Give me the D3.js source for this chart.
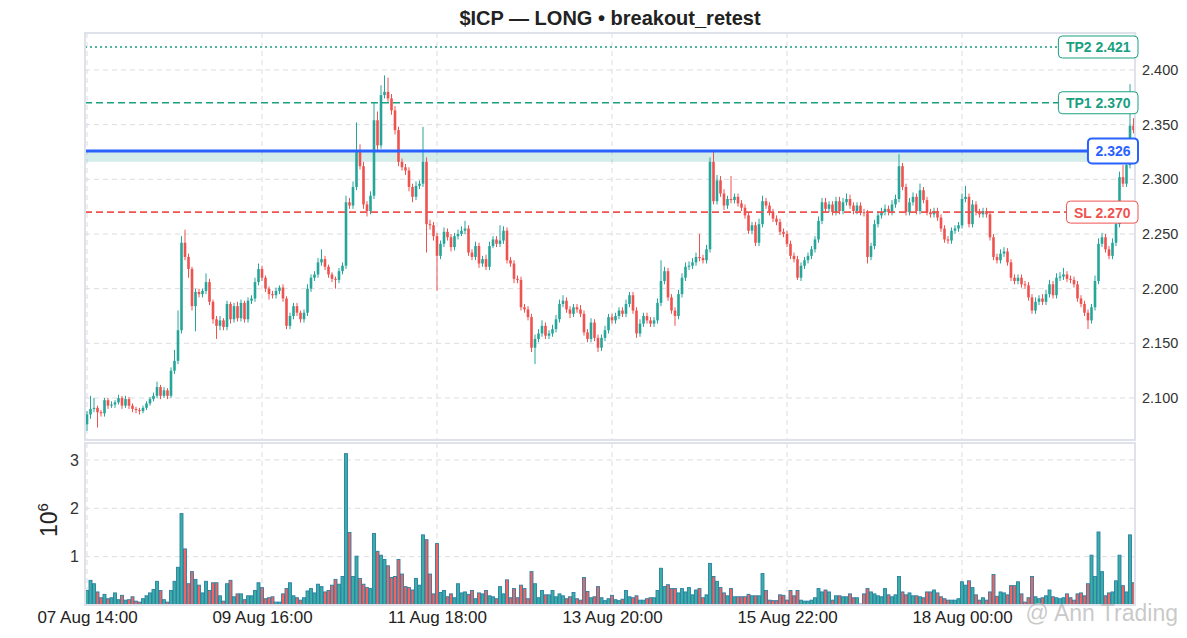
<!DOCTYPE html>
<html>
<head>
<meta charset="utf-8">
<title>$ICP — LONG • breakout_retest</title>
<script src="https://cdn.jsdelivr.net/npm/d3@7"></script>
<style>
  body { margin: 0; background: #fff; }
  svg { display: block; font-family: "Liberation Sans", Arial, sans-serif; }
</style>
</head>
<body>
<svg id="chart" width="1187" height="638"></svg>
<script>
// hourly candles, first one at 07 Aug 14:00 (UTC)
const startTime = "2025-08-07T14:00:00Z";
const firstOpen = 2.076;

// close of each hour, open = previous close
const closes = [
  2.085, 2.090, 2.091, 2.087, 2.086, 2.098, 2.093, 2.094, 2.096, 2.100, // 0
  2.093, 2.099, 2.093, 2.090, 2.089, 2.088, 2.091, 2.095, 2.099, 2.102, // 10
  2.110, 2.102, 2.107, 2.102, 2.125, 2.134, 2.162, 2.242, 2.229, 2.218, // 20
  2.184, 2.197, 2.195, 2.198, 2.206, 2.188, 2.172, 2.166, 2.171, 2.165, // 30
  2.186, 2.172, 2.184, 2.173, 2.187, 2.172, 2.189, 2.191, 2.206, 2.218, // 40
  2.210, 2.200, 2.195, 2.194, 2.198, 2.201, 2.191, 2.166, 2.175, 2.184, // 50
  2.178, 2.172, 2.178, 2.200, 2.210, 2.213, 2.224, 2.227, 2.220, 2.213, // 60
  2.209, 2.208, 2.216, 2.221, 2.279, 2.276, 2.293, 2.326, 2.312, 2.277, // 70
  2.271, 2.285, 2.354, 2.331, 2.377, 2.380, 2.374, 2.363, 2.345, 2.316, // 80
  2.311, 2.308, 2.293, 2.284, 2.294, 2.296, 2.316, 2.259, 2.258, 2.248, // 90
  2.230, 2.241, 2.252, 2.247, 2.238, 2.248, 2.250, 2.253, 2.255, 2.233, // 100
  2.229, 2.239, 2.223, 2.227, 2.220, 2.239, 2.245, 2.241, 2.244, 2.253, // 110
  2.226, 2.223, 2.209, 2.208, 2.183, 2.181, 2.174, 2.146, 2.154, 2.159, // 120
  2.166, 2.157, 2.159, 2.163, 2.172, 2.186, 2.189, 2.181, 2.177, 2.183, // 130
  2.181, 2.177, 2.160, 2.154, 2.169, 2.155, 2.146, 2.155, 2.162, 2.174, // 140
  2.171, 2.175, 2.180, 2.177, 2.186, 2.194, 2.180, 2.159, 2.168, 2.175, // 150
  2.171, 2.168, 2.171, 2.187, 2.207, 2.216, 2.192, 2.180, 2.175, 2.195, // 160
  2.210, 2.220, 2.221, 2.224, 2.229, 2.228, 2.226, 2.236, 2.316, 2.280, // 170
  2.299, 2.287, 2.276, 2.282, 2.281, 2.284, 2.278, 2.274, 2.267, 2.253, // 180
  2.258, 2.242, 2.259, 2.280, 2.276, 2.270, 2.264, 2.261, 2.252, 2.250, // 190
  2.241, 2.230, 2.227, 2.210, 2.221, 2.226, 2.230, 2.236, 2.245, 2.262, // 200
  2.279, 2.273, 2.277, 2.270, 2.280, 2.271, 2.279, 2.282, 2.276, 2.271, // 210
  2.276, 2.270, 2.269, 2.229, 2.239, 2.259, 2.267, 2.270, 2.273, 2.270, // 220
  2.277, 2.282, 2.312, 2.293, 2.270, 2.279, 2.284, 2.271, 2.290, 2.281, // 230
  2.270, 2.268, 2.271, 2.265, 2.255, 2.245, 2.244, 2.253, 2.255, 2.258, // 240
  2.282, 2.284, 2.259, 2.277, 2.270, 2.268, 2.271, 2.268, 2.247, 2.229, // 250
  2.226, 2.232, 2.234, 2.224, 2.210, 2.207, 2.210, 2.204, 2.203, 2.192, // 260
  2.180, 2.188, 2.191, 2.188, 2.195, 2.204, 2.194, 2.210, 2.211, 2.213, // 270
  2.209, 2.208, 2.204, 2.191, 2.186, 2.178, 2.171, 2.183, 2.207, 2.241, // 280
  2.247, 2.236, 2.230, 2.242, 2.259, 2.302, 2.296, 2.313, 2.349, 2.345  // 290
];

// wick lengths above / below the body, in thousandths
const upperWicks = [
  3, 12, 9, 2, 2, 2, 2, 3, 2, 3,   2, 3, 2, 2, 2, 2, 2, 2, 2, 3,
  5, 2, 3, 2, 3, 10, 18, 6, 12, 3,  2, 3, 3, 2, 8, 3, 2, 3, 4, 2,
  3, 2, 3, 4, 3, 2, 3, 3, 4, 5,   3, 2, 2, 3, 3, 2, 3, 2, 3, 3,
  3, 2, 3, 4, 3, 3, 4, 9, 3, 2,   2, 2, 3, 3, 6, 4, 5, 26, 6, 4,
  3, 4, 16, 8, 9, 15, 13, 4, 4, 3,  3, 3, 3, 3, 4, 3, 32, 4, 4, 3,
  3, 3, 4, 3, 3, 3, 4, 4, 7, 3,   3, 4, 3, 3, 4, 4, 3, 3, 14, 4,
  3, 3, 3, 3, 3, 3, 3, 3, 4, 4,   5, 3, 3, 4, 4, 4, 5, 3, 3, 3,
  3, 4, 3, 3, 4, 3, 3, 3, 4, 3,   3, 3, 3, 3, 4, 3, 3, 3, 4, 3,
  3, 3, 3, 4, 19, 4, 3, 3, 3, 4,  4, 4, 4, 4, 4, 21, 3, 4, 4, 9,
  5, 4, 4, 3, 21, 3, 3, 3, 3, 3,  3, 3, 5, 5, 3, 3, 3, 3, 3, 3,
  3, 3, 3, 3, 3, 3, 3, 3, 3, 4,   4, 4, 3, 3, 4, 4, 4, 5, 4, 3,
  3, 3, 3, 3, 3, 4, 4, 4, 4, 3,   4, 4, 11, 3, 3, 4, 4, 3, 6, 3,
  3, 3, 3, 3, 3, 3, 3, 3, 3, 3,   5, 10, 3, 4, 3, 3, 3, 3, 3, 3,
  3, 4, 4, 3, 3, 3, 3, 3, 3, 3,   3, 4, 3, 4, 4, 4, 3, 4, 4, 6,
  3, 3, 3, 3, 3, 3, 3, 3, 5, 5,   4, 3, 3, 4, 4, 5, 11, 5, 38, 7
];
const lowerWicks = [
  6, 4, 3, 14, 3, 3, 3, 2, 3, 2,  3, 2, 3, 3, 3, 3, 2, 2, 2, 2,
  2, 3, 2, 3, 2, 3, 3, 3, 3, 8,   4, 23, 3, 3, 3, 3, 4, 12, 4, 3,
  3, 4, 3, 3, 3, 3, 3, 3, 3, 3,   3, 3, 5, 3, 3, 3, 3, 3, 3, 3,
  3, 3, 3, 3, 3, 3, 3, 3, 3, 3,   3, 8, 3, 3, 3, 3, 3, 3, 3, 4,
  5, 3, 3, 4, 3, 3, 3, 4, 4, 4,   3, 4, 4, 5, 3, 3, 3, 26, 4, 4,
  32, 3, 3, 3, 4, 3, 3, 2, 3, 3,  3, 3, 4, 3, 3, 3, 2, 3, 3, 3,
  3, 3, 4, 3, 3, 3, 3, 4, 15, 3,  3, 3, 3, 3, 3, 3, 3, 3, 4, 3,
  3, 3, 3, 3, 3, 3, 4, 3, 3, 3,   3, 3, 3, 3, 3, 3, 3, 4, 3, 3,
  3, 3, 3, 3, 3, 3, 3, 3, 9, 3,   3, 3, 3, 3, 3, 3, 3, 3, 3, 3,
  3, 3, 4, 3, 3, 3, 3, 3, 3, 3,   3, 3, 3, 3, 3, 3, 3, 3, 3, 3,
  3, 3, 3, 2, 3, 3, 3, 3, 3, 3,   3, 3, 3, 3, 3, 3, 3, 3, 3, 3,
  3, 3, 3, 6, 3, 3, 3, 3, 3, 3,   3, 3, 3, 3, 3, 3, 3, 3, 3, 3,
  3, 3, 3, 3, 3, 3, 3, 3, 3, 3,   3, 3, 3, 3, 3, 3, 3, 3, 3, 3,
  3, 3, 3, 3, 3, 3, 3, 3, 3, 3,   3, 3, 3, 3, 3, 3, 3, 3, 3, 3,
  3, 3, 3, 3, 3, 3, 8, 3, 3, 3,   3, 3, 3, 3, 3, 3, 3, 3, 3, 3
];

// volume per hour, millions
const volumes = [
  0.30, 0.51, 0.44, 0.27, 0.15, 0.22, 0.13, 0.15, 0.25, 0.11,
  0.20, 0.10, 0.11, 0.17, 0.08, 0.06, 0.13, 0.19, 0.25, 0.32,
  0.49, 0.30, 0.11, 0.06, 0.30, 0.49, 0.78, 1.89, 1.16, 0.44,
  0.69, 0.53, 0.41, 0.25, 0.49, 0.30, 0.46, 0.46, 0.19, 0.08,
  0.44, 0.51, 0.17, 0.23, 0.23, 0.11, 0.19, 0.19, 0.30, 0.46,
  0.36, 0.13, 0.15, 0.17, 0.06, 0.06, 0.23, 0.34, 0.46, 0.19,
  0.15, 0.10, 0.15, 0.29, 0.34, 0.25, 0.43, 0.38, 0.27, 0.30,
  0.41, 0.53, 0.43, 0.59, 3.13, 1.50, 0.59, 1.01, 0.55, 0.43,
  0.36, 0.34, 1.48, 1.11, 1.03, 0.94, 0.81, 0.57, 0.59, 0.94,
  0.64, 0.38, 0.36, 0.31, 0.55, 0.41, 1.45, 1.35, 0.64, 0.23,
  1.27, 0.26, 0.30, 0.17, 0.23, 0.15, 0.44, 0.25, 0.27, 0.22,
  0.30, 0.13, 0.25, 0.23, 0.30, 0.19, 0.17, 0.13, 0.38, 0.23,
  0.52, 0.15, 0.34, 0.15, 0.41, 0.34, 0.13, 0.69, 0.44, 0.15,
  0.30, 0.21, 0.21, 0.30, 0.17, 0.23, 0.19, 0.13, 0.17, 0.26,
  0.13, 0.10, 0.57, 0.28, 0.15, 0.17, 0.38, 0.15, 0.09, 0.13,
  0.20, 0.11, 0.09, 0.12, 0.30, 0.17, 0.15, 0.19, 0.10, 0.10,
  0.13, 0.15, 0.15, 0.30, 0.76, 0.38, 0.42, 0.34, 0.34, 0.25,
  0.34, 0.27, 0.36, 0.21, 0.31, 0.34, 0.15, 0.21, 0.86, 0.59,
  0.49, 0.36, 0.25, 0.19, 0.34, 0.17, 0.17, 0.17, 0.17, 0.22,
  0.19, 0.19, 0.19, 0.65, 0.30, 0.10, 0.09, 0.09, 0.21, 0.20,
  0.10, 0.30, 0.19, 0.30, 0.10, 0.08, 0.08, 0.10, 0.15, 0.34,
  0.27, 0.31, 0.27, 0.10, 0.19, 0.19, 0.17, 0.17, 0.23, 0.15,
  0.15, 0.02, 0.23, 0.34, 0.27, 0.23, 0.19, 0.17, 0.34, 0.21,
  0.17, 0.21, 0.59, 0.27, 0.21, 0.25, 0.19, 0.19, 0.17, 0.15,
  0.27, 0.27, 0.31, 0.25, 0.17, 0.13, 0.10, 0.10, 0.10, 0.13,
  0.48, 0.41, 0.50, 0.36, 0.21, 0.10, 0.15, 0.10, 0.27, 0.63,
  0.18, 0.27, 0.25, 0.21, 0.40, 0.40, 0.48, 0.23, 0.06, 0.15,
  0.59, 0.17, 0.13, 0.15, 0.19, 0.31, 0.17, 0.15, 0.13, 0.15,
  0.23, 0.15, 0.10, 0.23, 0.25, 0.19, 0.44, 1.03, 0.59, 1.51,
  0.69, 0.19, 0.25, 0.27, 0.50, 1.03, 0.40, 0.27, 1.45, 0.46
];

const timeTicks = ["2025-08-07T14:00:00Z", "2025-08-09T16:00:00Z", "2025-08-11T18:00:00Z",
                   "2025-08-13T20:00:00Z", "2025-08-15T22:00:00Z", "2025-08-18T00:00:00Z"];
const priceTicks = [2.100, 2.150, 2.200, 2.250, 2.300, 2.350, 2.400];
const volumeTicks = [1, 2, 3];

// trade levels
const levelNames = ["TP2", "TP1", "", "SL"];
const levelValues = [2.421, 2.370, 2.326, 2.270];
const entryZone = [2.316, 2.326];

const title = "$ICP — LONG • breakout_retest";

// ---------- layout ----------
const left = 85, right = 1135;
const priceTop = 33, priceBottom = 440;
const volTop = 443, volBottom = 605;
const HOUR = 3600 * 1000;

const UP = "#26a69a", DOWN = "#ef5350";
const TEAL = "#18a07f", BLUE = "#2962ff";
const FRAME = "#dfe2ea", GRID = "#dcdde2";

const t0 = new Date(startTime).getTime();
const candles = closes.map((c, i) => {
  const o = i === 0 ? firstOpen : closes[i - 1];
  return {
    t: new Date(t0 + i * HOUR),
    o, c,
    h: Math.max(o, c) + upperWicks[i] / 1000,
    l: Math.min(o, c) - lowerWicks[i] / 1000,
    v: volumes[i]
  };
});

const svg = d3.select("#chart");

const x = d3.scaleUtc()
  .domain([new Date(t0), new Date(t0 + 300 * HOUR)])
  .range([87, 1137]);
const y = d3.scaleLinear().domain([2.0616, 2.4338]).range([priceBottom, priceTop]);
const yv = d3.scaleLinear().domain([0, 3.35]).range([volBottom, volTop]);

const tickDates = timeTicks.map(s => new Date(s));

svg.append("defs").append("clipPath").attr("id", "clipPrice")
  .append("rect").attr("x", left).attr("y", priceTop)
  .attr("width", right - left).attr("height", priceBottom - priceTop);

// ---------- grids ----------
function grid(top, bottom, yScale, yTicks) {
  const g = svg.append("g").attr("stroke", GRID).attr("stroke-dasharray", "5,4").attr("stroke-width", 1);
  g.selectAll("line.h").data(yTicks).join("line").attr("class", "h")
    .attr("x1", left).attr("x2", right)
    .attr("y1", d => yScale(d)).attr("y2", d => yScale(d));
  g.selectAll("line.v").data(tickDates).join("line").attr("class", "v")
    .attr("x1", d => x(d)).attr("x2", d => x(d))
    .attr("y1", top).attr("y2", bottom);
}
grid(priceTop, priceBottom, y, priceTicks);
grid(volTop, volBottom, yv, volumeTicks);

// ---------- entry zone ----------
const price = svg.append("g").attr("clip-path", "url(#clipPrice)");

price.append("rect")
  .attr("x", left).attr("width", right - left)
  .attr("y", y(entryZone[1])).attr("height", y(entryZone[0]) - y(entryZone[1]))
  .attr("fill", "rgba(38,166,154,0.2)");

// ---------- candles ----------
const bodyW = 2.6;
const cg = price.append("g");
cg.selectAll("line").data(candles).join("line")
  .attr("x1", d => x(d.t)).attr("x2", d => x(d.t))
  .attr("y1", d => y(d.h)).attr("y2", d => y(d.l))
  .attr("stroke", d => d.c >= d.o ? UP : DOWN)
  .attr("stroke-width", 1);
cg.selectAll("rect").data(candles).join("rect")
  .attr("x", d => x(d.t) - bodyW / 2).attr("width", bodyW)
  .attr("y", d => y(Math.max(d.o, d.c)))
  .attr("height", d => Math.max(1, Math.abs(y(d.o) - y(d.c))))
  .attr("fill", d => d.c >= d.o ? UP : DOWN);

// level lines
const levelStyle = [
  { color: TEAL, dash: "2,3", width: 1.6 },
  { color: TEAL, dash: "7,4", width: 1.6 },
  { color: BLUE, dash: null, width: 3 },
  { color: DOWN, dash: "7,4", width: 1.6 }
];
price.selectAll("line.level").data(levelValues).join("line").attr("class", "level")
  .attr("x1", left).attr("x2", right)
  .attr("y1", d => y(d)).attr("y2", d => y(d))
  .attr("stroke", (d, i) => levelStyle[i].color)
  .attr("stroke-width", (d, i) => levelStyle[i].width)
  .attr("stroke-dasharray", (d, i) => levelStyle[i].dash);

// ---------- volume ----------
svg.append("g").selectAll("rect").data(candles).join("rect")
  .attr("x", d => x(d.t) - 1.5).attr("width", 3)
  .attr("y", d => yv(d.v)).attr("height", d => yv(0) - yv(d.v))
  .attr("fill", d => d.c >= d.o ? UP : DOWN)
  .attr("fill-opacity", 0.9)
  .attr("stroke", "#2a7fa6").attr("stroke-width", 0.9);

// ---------- frames ----------
const frames = svg.append("g").attr("fill", "none").attr("stroke", FRAME).attr("stroke-width", 2);
frames.append("rect").attr("x", left).attr("y", priceTop).attr("width", right - left).attr("height", priceBottom - priceTop);
frames.append("rect").attr("x", left).attr("y", volTop).attr("width", right - left).attr("height", volBottom - volTop);

// ---------- axes ----------
const priceAxis = svg.append("g").attr("transform", `translate(${right},0)`)
  .call(d3.axisRight(y).tickValues(priceTicks).tickFormat(d3.format(".3f")).tickSize(0).tickPadding(7));
priceAxis.select(".domain").remove();
priceAxis.selectAll("text").attr("font-size", 14.5).attr("fill", "#333").attr("font-family", "Liberation Sans, Arial, sans-serif");

const volAxis = svg.append("g").attr("transform", `translate(${left},0)`)
  .call(d3.axisLeft(yv).tickValues(volumeTicks).tickFormat(d3.format("d")).tickSize(0).tickPadding(6));
volAxis.select(".domain").remove();
volAxis.selectAll("text").attr("font-size", 16).attr("fill", "#333").attr("font-family", "Liberation Sans, Arial, sans-serif");

const xAxis = svg.append("g").attr("transform", `translate(0,${volBottom})`)
  .call(d3.axisBottom(x).tickValues(tickDates).tickFormat(d3.utcFormat("%d %b %H:%M")).tickSize(0).tickPadding(6));
xAxis.select(".domain").remove();
xAxis.selectAll("text").attr("font-size", 17).attr("fill", "#222").attr("font-family", "Liberation Sans, Arial, sans-serif");

// volume unit label
const unit = svg.append("text")
  .attr("transform", `translate(57,${(volTop + volBottom) / 2 - 4}) rotate(-90)`)
  .attr("text-anchor", "middle").attr("fill", "#222");
unit.append("tspan").attr("font-size", 23).text("10");
unit.append("tspan").attr("font-size", 15).attr("dy", -9).text("6");

// ---------- level tags ----------
const tags = svg.append("g");
levelValues.forEach((v, i) => {
  const st = levelStyle[i];
  const label = levelNames[i] ? `${levelNames[i]} ${d3.format(".3f")(v)}` : d3.format(".3f")(v);
  const g = tags.append("g");
  const txt = g.append("text")
    .attr("font-size", 14).attr("font-weight", "bold")
    .attr("fill", st.color)
    .attr("dominant-baseline", "central")
    .text(label);
  const tw = txt.node().getComputedTextLength();
  const bw = tw + 15, bh = i === 2 ? 25 : 22;
  const bx = 1138 - bw, by = y(v) - bh / 2;
  g.insert("rect", "text")
    .attr("x", bx).attr("y", by).attr("width", bw).attr("height", bh)
    .attr("rx", 4)
    .attr("fill", "#fff")
    .attr("stroke", st.color)
    .attr("stroke-width", i === 2 ? 2 : 1);
  txt.attr("x", bx + bw / 2).attr("y", y(v) + 0.5).attr("text-anchor", "middle");
});

// ---------- title ----------
svg.append("text")
  .attr("x", (left + right) / 2).attr("y", 25)
  .attr("text-anchor", "middle")
  .attr("font-size", 20).attr("font-weight", "bold").attr("fill", "#222")
  .text(title);

// watermark
svg.append("text")
  .attr("x", 1178).attr("y", 621)
  .attr("text-anchor", "end")
  .attr("font-size", 23).attr("fill", "#b8b8b8").attr("fill-opacity", 0.75)
  .text("@ Ann Trading");
</script>
</body>
</html>
